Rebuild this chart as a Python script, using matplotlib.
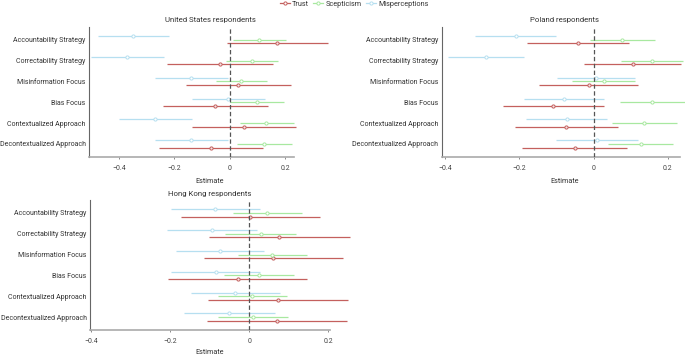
#!/usr/bin/env python3

"""Coefficient plots of trust, scepticism and misperceptions by country."""

import matplotlib

matplotlib.use("Agg")
import matplotlib.pyplot as plt
from matplotlib.lines import Line2D
import numpy as np

plt.rcParams["font.family"] = ["Roboto", "DejaVu Sans"]
plt.rcParams["font.size"] = 5

conditions = [
    "Accountability Strategy",
    "Correctability Strategy",
    "Misinformation Focus",
    "Bias Focus",
    "Contextualized Approach",
    "Decontextualized Approach",
]
outcomes = ["Trust", "Scepticism", "Misperceptions"]
colors = {"Trust": "#c4605e", "Scepticism": "#a8e8a0", "Misperceptions": "#b6dff0"}

# (estimate, lower, upper) per condition
us = {
    "Trust": [(0.171, -0.010, 0.355), (-0.037, -0.228, 0.154), (0.029, -0.159, 0.220),
              (-0.053, -0.242, 0.136), (0.051, -0.137, 0.239), (-0.069, -0.257, 0.119)],
    "Scepticism": [(0.106, 0.010, 0.201), (0.080, -0.014, 0.175), (0.041, -0.051, 0.135),
                   (0.096, 0.000, 0.194), (0.131, 0.036, 0.230), (0.124, 0.027, 0.223)],
    "Misperceptions": [(-0.349, -0.476, -0.220), (-0.371, -0.502, -0.239), (-0.139, -0.271, -0.007),
                       (-0.006, -0.137, 0.127), (-0.269, -0.399, -0.137), (-0.140, -0.271, -0.007)],
}
poland = {
    "Trust": [(-0.042, -0.179, 0.096), (0.106, -0.025, 0.237), (-0.013, -0.147, 0.121),
              (-0.108, -0.244, 0.028), (-0.073, -0.212, 0.065), (-0.051, -0.192, 0.089)],
    "Scepticism": [(0.078, -0.010, 0.165), (0.158, 0.074, 0.242), (0.027, -0.059, 0.113),
                   (0.158, 0.071, 0.246), (0.137, 0.049, 0.225), (0.127, 0.039, 0.215)],
    "Misperceptions": [(-0.210, -0.320, -0.102), (-0.290, -0.393, -0.187), (0.007, -0.099, 0.113),
                       (-0.079, -0.187, 0.028), (-0.072, -0.181, 0.037), (0.009, -0.101, 0.119)],
}
hong_kong = {
    "Trust": [(0.002, -0.173, 0.180), (0.076, -0.101, 0.254), (0.061, -0.115, 0.237),
              (-0.029, -0.206, 0.147), (0.072, -0.105, 0.250), (0.071, -0.107, 0.247)],
    "Scepticism": [(0.045, -0.042, 0.134), (0.029, -0.061, 0.118), (0.058, -0.029, 0.145),
                   (0.025, -0.064, 0.113), (0.008, -0.080, 0.096), (0.009, -0.080, 0.099)],
    "Misperceptions": [(-0.086, -0.197, 0.027), (-0.094, -0.208, 0.020), (-0.074, -0.186, 0.038),
                       (-0.085, -0.197, 0.028), (-0.035, -0.148, 0.077), (-0.050, -0.165, 0.064)],
}

W, H = 685, 358
fig = plt.figure(figsize=(W / 100, H / 100), dpi=100)


def add_panel(left, right, top, bottom):
    return fig.add_axes([left / W, 1 - bottom / H, (right - left) / W, (bottom - top) / H])


offsets = {"Trust": -0.175, "Scepticism": 0.0, "Misperceptions": 0.175}
ypos = np.arange(len(conditions), 0, -1)


def panel(ax, data, title, xlim, title_x, title_dy, label_dy):
    for name in outcomes:
        vals = np.array(data[name])
        est, lo, hi = vals[:, 0], vals[:, 1], vals[:, 2]
        ax.errorbar(est, ypos + offsets[name], xerr=[est - lo, hi - est], fmt="o",
                    color=colors[name], ecolor=colors[name], elinewidth=0.9,
                    markersize=2.3, mfc="#f4e4e4" if name == "Trust" else "white",
                    mew=0.7, capsize=0, clip_on=False, zorder=3)
    ax.axvline(0, color="#555555", ls=(0, (3.5, 2)), lw=0.9, zorder=4)
    ax.set_xlim(*xlim)
    ax.set_ylim(0.4, 6.6)
    ax.set_yticks(ypos)
    ax.set_yticklabels(conditions)
    ax.set_xticks([-0.4, -0.2, 0, 0.2])
    ax.set_xticklabels(["\u22120.4", "\u22120.2", "0", "0.2"])
    ax.tick_params(axis="y", length=0, pad=2.5, colors="#333333", labelsize=5)
    ax.tick_params(axis="x", length=1.5, width=0.6, pad=4.5, colors="#777777",
                   labelcolor="#444444", labelsize=5)
    for side in ["top", "right"]:
        ax.spines[side].set_visible(False)
    ax.spines["left"].set_color("#666666")
    ax.spines["left"].set_linewidth(0.8)
    ax.spines["bottom"].set_color("#aaaaaa")
    ax.spines["bottom"].set_linewidth(1.2)
    ax.text(title_x, 1 + title_dy, title, transform=ax.transAxes, ha="center",
            va="center", fontsize=5.6, color="#333333")
    ax.text(title_x, -label_dy, "Estimate", transform=ax.transAxes, ha="center",
            va="center", fontsize=5.2, color="#333333")


ax_us = add_panel(89, 294, 27.2, 156.5)
panel(ax_us, us, "United States respondents", (-0.508, 0.231), 0.59, 0.056, 0.19)

ax_pl = add_panel(441.7, 680, 27.2, 156.5)
panel(ax_pl, poland, "Poland respondents", (-0.409, 0.233), 0.515, 0.056, 0.19)

ax_hk = add_panel(90, 330, 200.5, 329.5)
panel(ax_hk, hong_kong, "Hong Kong respondents", (-0.402, 0.204), 0.5, 0.048, 0.18)

handles = [Line2D([0], [0], color=colors[n], lw=0.9, marker="o", markersize=2.3,
                  mfc="white", mew=0.7) for n in outcomes]
fig.legend(handles, outcomes, loc="center", bbox_to_anchor=(354 / W, 1 - 4.5 / H),
           ncol=3, frameon=False, fontsize=5.2, handlelength=1.4, handletextpad=0.3,
           columnspacing=0.6, borderaxespad=0, labelcolor="#333333")

plt.savefig("out.png", dpi=100)
